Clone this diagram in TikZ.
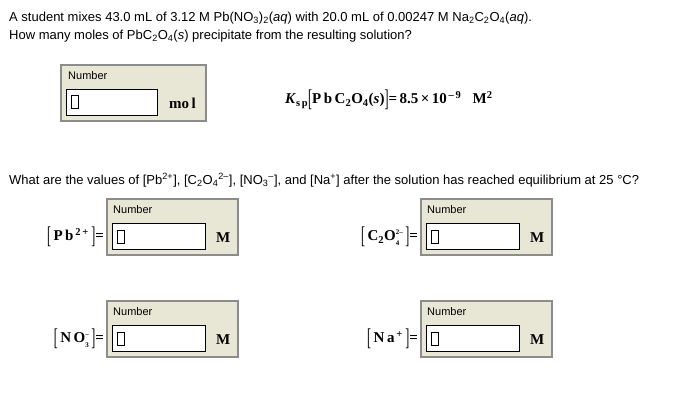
\documentclass[tikz,border=0pt]{standalone}
\usepackage{fontspec}
\usepackage{graphicx}
\setmainfont{Liberation Sans}
\newfontfamily\serifb{Liberation Serif}
\newlength{\ssbw}
\newcommand{\ssb}[2]{\settowidth{\ssbw}{\scriptsize #1}\makebox[\ssbw][l]{\makebox[0pt][l]{\raisebox{1.0ex}{\scriptsize #1}}\raisebox{-0.7ex}{\scriptsize #2}}}
\newcommand{\lbk}{\raisebox{-0.4ex}{\scalebox{0.8}[1.6]{\mdseries[}}}
\newcommand{\rbk}{\raisebox{-0.4ex}{\scalebox{0.8}[1.6]{\mdseries]}}}
\definecolor{panel}{HTML}{E8E6D4}
\definecolor{pborder}{HTML}{8C8C8C}
\tikzset{
 panelbox/.style={draw=pborder,line width=2pt,fill=panel,anchor=north west,minimum width=#1,minimum height=56pt,inner sep=0pt},
 inbox/.style={draw=black,fill=white,line width=0.7pt,anchor=north west,minimum height=26pt,minimum width=#1,inner sep=0pt},
 cursorbox/.style={draw=black,line width=0.6pt,anchor=west,minimum width=7pt,minimum height=13pt,inner sep=0pt},
 txt/.style={anchor=west,inner sep=0pt,font=\fontsize{13}{15}\selectfont},
 numlbl/.style={anchor=west,inner sep=0pt,font=\fontsize{11}{13}\selectfont},
 chem/.style={anchor=west,inner sep=0pt,font=\serifb\bfseries\fontsize{15}{17}\selectfont},
}
\begin{document}
\begin{tikzpicture}[x=1pt,y=-1pt]
\useasboundingbox (0,0) rectangle (676,408);
\node[txt] (t1) at (9,18) {A student mixes 43.0 mL of 3.12 M Pb(NO\textsubscript{3})\textsubscript{2}(\textit{aq}) with 20.0 mL of 0.00247 M Na\textsubscript{2}C\textsubscript{2}O\textsubscript{4}(\textit{aq}).};
\node[txt] (t2) at (9,36) {How many moles of PbC\textsubscript{2}O\textsubscript{4}(\textit{s}) precipitate from the resulting solution?};
\node[panelbox=145pt] (p0) at (60,64) {};
\node[numlbl] (l0) at (68,76) {Number};
\node[inbox=91pt] (i0) at (66,89) {};
\node[cursorbox] (c0) at (71,102) {};
\node[chem] (u0) at (169,103) {mo\,l};
\node[chem] (ksp) at (285,100) {\textit{K}\textsubscript{s\,p}\lbk P\,b\,C\textsubscript{2}O\textsubscript{4}(\textit{s})\rbk{}=\,8.5\,×\,10\textsuperscript{\,–\,9}\ \ \ M\textsuperscript{2}};
\node[txt] (t3) at (9,180) {What are the values of [Pb\textsuperscript{2+}], [C\textsubscript{2}O\textsubscript{4}\textsuperscript{2–}], [NO\textsubscript{3}\textsuperscript{–}], and [Na\textsuperscript{+}] after the solution has reached equilibrium at 25 °C?};
\node[panelbox=131pt] (pa) at (106,198) {};
\node[numlbl] (la) at (113,210) {Number};
\node[inbox=93pt] (ia) at (112,223) {};
\node[cursorbox] (ca) at (117,237) {};
\node[chem] (ua) at (216,238) {M};
\node[panelbox=131pt] (pb) at (420,198) {};
\node[numlbl] (lb) at (427,210) {Number};
\node[inbox=93pt] (ib) at (426,223) {};
\node[cursorbox] (cb) at (431,237) {};
\node[chem] (ub) at (530,238) {M};
\node[panelbox=131pt] (pc) at (106,300) {};
\node[numlbl] (lc) at (113,312) {Number};
\node[inbox=93pt] (ic) at (112,325) {};
\node[cursorbox] (cc) at (117,339) {};
\node[chem] (uc) at (216,340) {M};
\node[panelbox=131pt] (pd) at (420,300) {};
\node[numlbl] (ld) at (427,312) {Number};
\node[inbox=93pt] (id) at (426,325) {};
\node[cursorbox] (cd) at (431,339) {};
\node[chem] (ud) at (530,340) {M};
\node[chem,anchor=east] (ea) at (104,237) {\lbk\,P\,b\textsuperscript{\,2\,+}\,\rbk{}=};
\node[chem,anchor=east] (eb) at (418,237) {\lbk\,C\textsubscript{2}O\ssb{2–}{4}\,\rbk{}=};
\node[chem,anchor=east] (ec) at (104,339) {\lbk\,N\,O\ssb{–}{3}\,\rbk{}=};
\node[chem,anchor=east] (ed) at (418,339) {\lbk\,N\,a\textsuperscript{\,+}\,\rbk{}=};
\end{tikzpicture}
\end{document}
